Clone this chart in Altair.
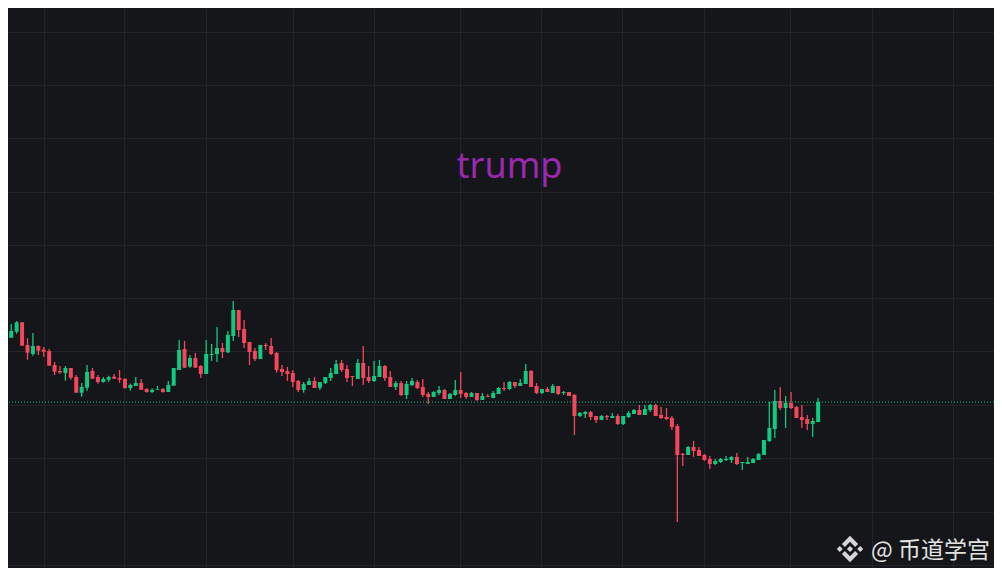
import altair as alt
import pandas as pd
import numpy as np

# ---- candle data (price units) ----
opens = [238.3, 244.3, 253.7, 231, 222, 230, 226.3, 225, 211, 205,
         203, 208, 199, 183.3, 188.3, 205, 199, 194, 196.3, 199.3,
         198, 197, 188, 190, 193, 187, 184, 186.3, 187, 184,
         190.3, 206, 227, 209.3, 218, 210, 202, 221, 222, 228,
         223.7, 240, 266, 247, 234, 225, 217, 231, 230, 223,
         207, 205, 203, 195, 186, 191, 195, 188.3, 193, 198,
         202, 213, 207, 200, 197, 213, 199, 195, 199, 210,
         199, 189, 193, 181, 191, 194, 189, 182, 179, 183,
         186, 177, 181, 186, 183, 179, 183, 176, 180, 178,
         182, 188, 187, 194, 190, 192, 205, 190, 183, 187,
         183, 190, 183, 184, 181, 160, 162, 164, 160, 156,
         160, 158, 160, 152, 159, 162, 166, 161, 166, 171,
         161, 159, 158, 150, 122.3, 121, 129, 126, 121, 117,
         112, 114, 116, 116, 119, 113, 112, 113, 116, 121,
         135, 147, 175, 168, 173, 169, 159, 157, 152, 154]
highs = [252, 255, 253.7, 237.7, 243, 230.7, 229, 227, 214, 210,
         210, 208, 201, 193, 211, 208, 201, 199, 200.3, 202,
         206, 198, 192.3, 199, 197, 187.7, 187.7, 190, 188, 195,
         208, 236, 235, 221, 223, 211, 236, 232, 249, 233,
         245, 275, 266, 256, 234, 228, 231, 233, 238, 224,
         211, 209, 206, 196, 194, 198, 199, 194, 199, 208,
         216, 216, 211, 200, 217, 230, 210, 215, 216, 211,
         205, 195, 195, 195, 198, 196, 197, 184, 185, 190,
         187, 183, 196, 204, 184, 184, 183, 183, 182, 185,
         189, 194, 195, 194, 197, 212, 206, 193, 187, 189,
         192, 190, 185, 184, 182, 164, 165, 165, 160, 161,
         161, 163, 162, 160, 165, 167, 171, 171, 172, 172,
         169, 168, 160, 152, 123, 130, 135, 129, 122, 120,
         117, 118, 120, 120, 123, 114, 119, 118, 123, 136,
         174, 186, 189, 180, 184, 170, 171, 161, 158, 178]
lows = [238.3, 242.3, 230.3, 216.3, 220.3, 221, 219.3, 210.3, 201, 202.3,
        195.3, 196.3, 183.3, 179.3, 185.3, 197.3, 192.3, 193.3, 194.3, 197.3,
        193.3, 187.3, 185.3, 190, 186.3, 183.3, 183, 186.3, 183.3, 184,
        190.3, 206, 208.3, 208.3, 208.3, 198, 202, 215, 214, 218,
        223, 235, 239, 228, 211, 215, 217, 226, 221, 203.3,
        200, 195, 189, 184, 183.3, 191, 188, 186, 192, 195,
        202, 204, 194, 190, 197, 191, 193, 194, 199, 195,
        189, 186, 180, 177, 190, 187, 179, 172, 179, 181,
        177, 177, 180, 178, 177, 179, 175, 176, 179, 178,
        182, 185, 186, 188, 190, 192, 189, 182, 182, 184,
        183, 181, 181, 180, 141, 159, 158, 156, 153, 156,
        156, 158, 151, 151, 158, 162, 161, 161, 164, 160,
        157, 156, 146, 54, 110, 121, 119, 120, 115, 107,
        111, 113, 115, 113, 111, 106, 112, 113, 116, 121,
        134, 138, 166, 148, 167, 158, 148, 146, 139, 154]
closes = [245, 253.7, 230.3, 223.3, 230, 225.3, 224.3, 210.3, 204.3, 203.7,
          208, 198.3, 183.3, 189, 204, 197.3, 194, 197, 199, 197.3,
          196.3, 188, 191, 193, 186.3, 184, 186, 187, 184, 191,
          208, 226, 208.3, 218, 208.3, 202, 222, 222, 228, 224,
          241, 266, 246, 233, 224, 217, 231, 230, 222, 206,
          204, 202, 194, 186, 192, 195, 188, 194, 199, 203,
          212, 206, 198, 199, 213, 198, 195, 200, 210, 198,
          189, 193, 181, 192, 195, 188, 181, 179, 184, 186,
          177, 182, 186, 182, 179, 183, 176, 180, 179, 183,
          188, 187, 194, 190, 193, 205, 189, 183, 187, 184,
          190, 182, 184, 180, 160, 163, 164, 159, 156, 160,
          159, 160, 152, 160, 163, 166, 161, 167, 171, 160,
          158, 157, 149, 121, 121, 129, 125, 120, 116, 112,
          115, 117, 117, 119, 112, 114, 114, 117, 122, 136,
          148, 175, 168, 173, 168, 158, 156, 152, 155, 174]

grid_x = [6.0, 20.9, 36.0, 52.0, 66.9, 82.8, 97.9, 112.8, 127.9, 143.9, 158.9, 173.9]
grid_y = [11.1, 64.3, 117.7, 171, 224.7, 277.7, 331, 384.3, 437.6, 490.9, 544.2]

title_text = ["trump"]
watermark_text = ["@ 币道学宫"]

UP = "#0ecb81"
DOWN = "#f6465d"
BG = "#151619"
GRID = "#232529"

LOGO = ("M-0.388,-0.16L0,-0.548L0.389,-0.159L0.615,-0.385L0,-1L-0.614,-0.386Z "
        "M-1,0L-0.774,-0.226L-0.548,0L-0.774,0.226Z "
        "M0,-0.229L0.229,0L0,0.229L-0.229,0Z "
        "M0.548,0L0.774,-0.226L1,0L0.774,0.226Z "
        "M-0.388,0.16L0,0.548L0.389,0.159L0.615,0.385L0,1L-0.614,0.386Z")

df = pd.DataFrame({
    "i": np.arange(len(opens)),
    "open": opens, "high": highs, "low": lows, "close": closes,
})
df["dir"] = np.where(df["close"] >= df["open"], "up", "down")

xs = alt.Scale(domain=[-0.6, 181.48], nice=False, zero=False, padding=0)
ys = alt.Scale(domain=[8, 568], nice=False, zero=False, padding=0)

xax = alt.Axis(values=grid_x, labels=False, ticks=False, domain=False, title=None,
               grid=True, gridColor=GRID, gridWidth=1)
yax = alt.Axis(values=grid_y, labels=False, ticks=False, domain=False, title=None,
               grid=True, gridColor=GRID, gridWidth=1)

color = alt.Color("dir:N", scale=alt.Scale(domain=["up", "down"], range=[UP, DOWN]), legend=None)

base = alt.Chart(df)
wicks = base.mark_rule(strokeWidth=1.3).encode(
    x=alt.X("i:Q", scale=xs, axis=xax),
    y=alt.Y("low:Q", scale=ys, axis=yax),
    y2="high:Q",
    color=color,
)
bodies = base.mark_bar(size=4).encode(
    x=alt.X("i:Q", scale=xs),
    y=alt.Y("open:Q", scale=ys),
    y2="close:Q",
    color=color,
)

last_df = pd.DataFrame({"p": [closes[-1]]})
last_line = alt.Chart(last_df).mark_rule(color=UP, strokeWidth=1, strokeDash=[1, 2]).encode(
    y=alt.Y("p:Q", scale=ys)
)

title = alt.Chart(pd.DataFrame({"t": title_text})).mark_text(
    font="Noto Sans", fontSize=36, color="#9c27b0", align="center", baseline="alphabetic"
).encode(x=alt.value(501.5), y=alt.value(169.5), text="t:N")

logo = alt.Chart(pd.DataFrame({"k": [0]})).mark_point(
    shape=LOGO, filled=True, size=700, color="#d6d6d6", opacity=1
).encode(x=alt.value(842), y=alt.value(541))

wm = alt.Chart(pd.DataFrame({"t": watermark_text})).mark_text(
    font="Noto Sans CJK SC", fontSize=23, color="#e2e2e2", align="right", baseline="alphabetic"
).encode(x=alt.value(982), y=alt.value(550), text="t:N")

chart = alt.layer(wicks, bodies, last_line, title, logo, wm).properties(
    width=986, height=560, background=BG, padding=0,
    autosize=alt.AutoSizeParams(type="none"),
).configure_view(stroke=None)

chart.save("out.html", embed_options={"renderer": "svg", "actions": False})
